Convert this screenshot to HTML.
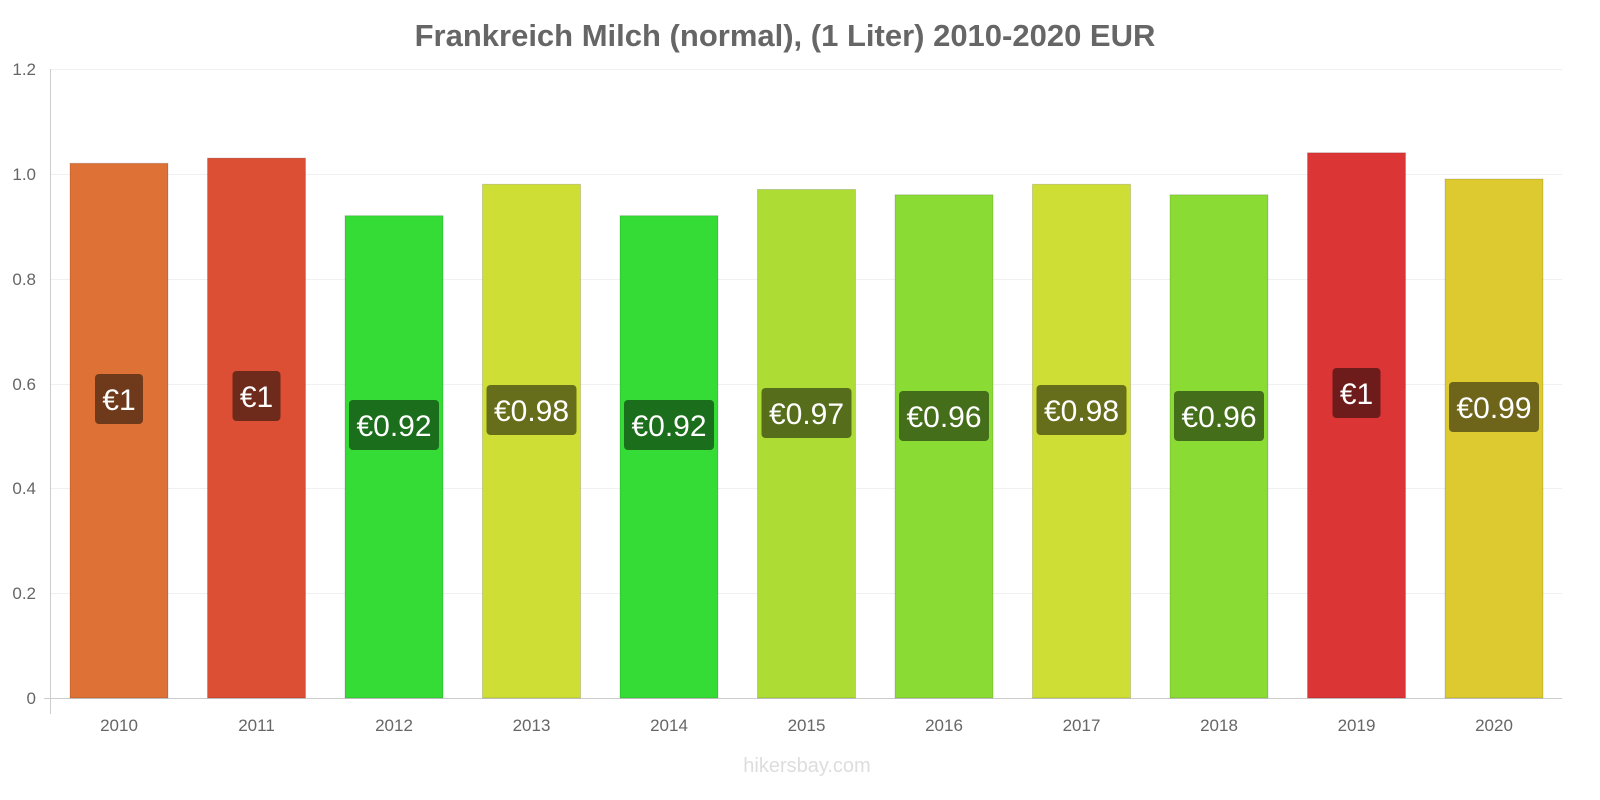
<!DOCTYPE html>
<html><head><meta charset="utf-8"><style>
html,body{margin:0;padding:0;background:#fff;}
svg{display:block;font-family:"Liberation Sans",sans-serif;}
</style></head><body>
<svg width="1600" height="800" viewBox="0 0 1600 800" xmlns="http://www.w3.org/2000/svg">
<text x="785" y="46" text-anchor="middle" font-size="31" font-weight="bold" fill="#666">Frankreich Milch (normal), (1 Liter) 2010-2020 EUR</text>
<g stroke="#f0f0f0" stroke-width="1">
<line x1="51" x2="1562" y1="69.5" y2="69.5"/>
<line x1="51" x2="1562" y1="174.5" y2="174.5"/>
<line x1="51" x2="1562" y1="279.5" y2="279.5"/>
<line x1="51" x2="1562" y1="384.5" y2="384.5"/>
<line x1="51" x2="1562" y1="488.5" y2="488.5"/>
<line x1="51" x2="1562" y1="593.5" y2="593.5"/>
</g>
<line x1="50.5" x2="50.5" y1="69" y2="714" stroke="#ccc"/>
<line x1="44" x2="1562" y1="698.5" y2="698.5" stroke="#ccc"/>
<g font-size="17" fill="#666" text-anchor="end">
<text x="36" y="75">1.2</text>
<text x="36" y="180">1.0</text>
<text x="36" y="285">0.8</text>
<text x="36" y="390">0.6</text>
<text x="36" y="494">0.4</text>
<text x="36" y="599">0.2</text>
<text x="36" y="704">0</text>
</g>
<g stroke="rgba(0,0,0,0.15)">
<rect x="70" y="163.3" width="98" height="534.7" fill="#de7135"/>
<rect x="207.5" y="158.1" width="98" height="539.9" fill="#dc4f35"/>
<rect x="345" y="215.7" width="98" height="482.3" fill="#35dc35"/>
<rect x="482.5" y="184.3" width="98" height="513.7" fill="#cfde35"/>
<rect x="620" y="215.7" width="98" height="482.3" fill="#35dc35"/>
<rect x="757.5" y="189.5" width="98" height="508.5" fill="#addd35"/>
<rect x="895" y="194.8" width="98" height="503.2" fill="#8adc35"/>
<rect x="1032.5" y="184.3" width="98" height="513.7" fill="#cfde35"/>
<rect x="1170" y="194.8" width="98" height="503.2" fill="#8adc35"/>
<rect x="1307.5" y="152.8" width="98" height="545.2" fill="#db3535"/>
<rect x="1445" y="179" width="98" height="519" fill="#dcca30"/>
</g>
<rect x="95" y="374" width="48" height="50" rx="4" fill="#6e3a1b"/>
<rect x="232.5" y="371" width="48" height="50" rx="4" fill="#6e2a1b"/>
<rect x="349" y="400" width="90" height="50" rx="4" fill="#1b6e1b"/>
<rect x="486.5" y="385" width="90" height="50" rx="4" fill="#676e1b"/>
<rect x="624" y="400" width="90" height="50" rx="4" fill="#1b6e1b"/>
<rect x="761.5" y="388" width="90" height="50" rx="4" fill="#566e1b"/>
<rect x="899" y="391" width="90" height="50" rx="4" fill="#456e1b"/>
<rect x="1036.5" y="385" width="90" height="50" rx="4" fill="#676e1b"/>
<rect x="1174" y="391" width="90" height="50" rx="4" fill="#456e1b"/>
<rect x="1332.5" y="368" width="48" height="50" rx="4" fill="#6e1b1b"/>
<rect x="1449" y="382" width="90" height="50" rx="4" fill="#6e651b"/>
<g font-size="30" fill="#fff" text-anchor="middle">
<text x="119" y="410">€1</text>
<text x="256.5" y="407">€1</text>
<text x="394" y="436">€0.92</text>
<text x="531.5" y="421">€0.98</text>
<text x="669" y="436">€0.92</text>
<text x="806.5" y="424">€0.97</text>
<text x="944" y="427">€0.96</text>
<text x="1081.5" y="421">€0.98</text>
<text x="1219" y="427">€0.96</text>
<text x="1356.5" y="404">€1</text>
<text x="1494" y="418">€0.99</text>
</g>
<g font-size="17" fill="#666" text-anchor="middle">
<text x="119" y="731">2010</text>
<text x="256.5" y="731">2011</text>
<text x="394" y="731">2012</text>
<text x="531.5" y="731">2013</text>
<text x="669" y="731">2014</text>
<text x="806.5" y="731">2015</text>
<text x="944" y="731">2016</text>
<text x="1081.5" y="731">2017</text>
<text x="1219" y="731">2018</text>
<text x="1356.5" y="731">2019</text>
<text x="1494" y="731">2020</text>
</g>
<text x="807" y="772" text-anchor="middle" font-size="20" fill="#ddd">hikersbay.com</text>
</svg>
</body></html>
